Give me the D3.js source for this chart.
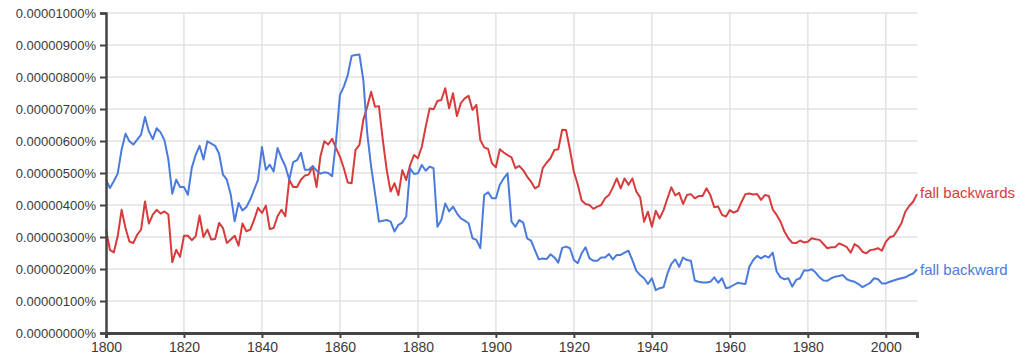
<!DOCTYPE html>
<html>
<head>
<meta charset="utf-8">
<script src="https://cdn.jsdelivr.net/npm/d3@7"></script>
<style>
  html, body { margin: 0; padding: 0; background: #fff; }
  svg { display: block; font-family: "Liberation Sans", Arial, Helvetica, sans-serif; }
</style>
</head>
<body>
<svg id="chart" width="1024" height="362"></svg>
<script>
// ---- DATA (values in units of 0.000001 %) ----
const startYear = 1800;
const endYear = 2008;
const seriesNames = ["fall backwards", "fall backward"];

const fallBackwards = [
  3.23,2.6,2.52,3.02,3.85,3.28,2.86,2.81,3.07,3.23,
  4.11,3.42,3.7,3.85,3.73,3.8,3.7,2.21,2.6,2.38,
  3.04,3.04,2.9,3.02,3.67,3.0,3.23,2.92,2.94,3.44,
  3.28,2.81,2.92,3.04,2.73,3.42,3.18,3.23,3.54,3.91,
  3.75,3.98,3.25,3.28,3.65,3.85,3.65,4.79,4.56,4.56,
  4.79,4.92,4.95,5.21,4.56,5.52,5.99,5.89,6.07,5.78,
  5.51,5.15,4.7,4.68,5.72,5.88,6.66,7.07,7.54,7.07,
  7.09,6.03,5.09,4.42,4.68,4.31,5.09,4.78,5.25,5.56,
  5.46,5.82,6.45,7.02,6.99,7.25,7.28,7.65,7.02,7.49,
  6.78,7.18,7.33,7.41,6.97,7.13,6.03,5.8,5.75,5.3,
  5.18,5.74,5.64,5.56,5.49,5.15,5.22,5.09,4.89,4.73,
  4.52,4.59,5.15,5.32,5.46,5.72,5.74,6.35,6.34,5.72,
  5.04,4.63,4.14,4.03,4.0,3.88,3.95,4.0,4.21,4.31,
  4.55,4.83,4.52,4.83,4.63,4.83,4.42,4.24,3.48,3.79,
  3.32,3.82,3.58,3.84,4.21,4.55,4.3,4.38,4.03,4.31,
  4.34,4.21,4.28,4.28,4.52,4.31,3.93,3.95,3.69,3.64,
  3.84,3.76,3.82,4.1,4.34,4.36,4.33,4.34,4.16,4.31,
  4.28,3.86,3.69,3.48,3.17,2.96,2.82,2.81,2.89,2.83,
  2.85,2.96,2.93,2.91,2.78,2.65,2.68,2.68,2.8,2.75,
  2.68,2.51,2.78,2.7,2.54,2.49,2.59,2.61,2.65,2.57,
  2.85,2.99,3.03,3.22,3.43,3.79,3.97,4.1,4.34
];

const fallBackward = [
  4.79,4.53,4.74,4.98,5.73,6.23,5.99,5.89,6.04,6.2,
  6.75,6.3,6.06,6.4,6.27,6.02,5.42,4.35,4.79,4.56,
  4.56,4.32,5.16,5.57,5.85,5.42,5.99,5.92,5.85,5.6,
  4.95,4.79,4.32,3.49,4.06,3.83,3.94,4.17,4.48,4.79,
  5.81,5.1,5.26,5.05,5.78,5.47,5.21,4.79,5.34,5.4,
  5.63,5.1,5.1,5.21,5.08,4.98,5.02,5.0,4.9,6.0,
  7.44,7.7,8.06,8.66,8.69,8.7,7.9,6.24,5.2,4.36,
  3.48,3.51,3.53,3.48,3.17,3.38,3.45,3.64,5.15,4.97,
  4.99,5.25,5.07,5.2,5.15,3.32,3.53,4.05,3.8,3.95,
  3.74,3.58,3.51,3.43,2.96,2.91,2.65,4.31,4.4,4.21,
  4.21,4.63,4.83,4.99,3.48,3.32,3.53,3.45,2.96,2.89,
  2.59,2.3,2.33,2.31,2.46,2.36,2.2,2.66,2.7,2.65,
  2.28,2.18,2.49,2.68,2.33,2.26,2.26,2.36,2.36,2.47,
  2.3,2.44,2.44,2.51,2.57,2.28,1.95,1.81,1.71,1.53,
  1.71,1.34,1.4,1.43,1.86,2.16,2.3,2.07,2.36,2.28,
  2.26,1.64,1.6,1.58,1.58,1.6,1.74,1.57,1.71,1.4,
  1.43,1.5,1.57,1.55,1.53,2.07,2.28,2.41,2.33,2.41,
  2.36,2.51,1.92,1.74,1.68,1.71,1.45,1.66,1.71,1.95,
  1.95,1.99,1.89,1.74,1.64,1.63,1.71,1.76,1.78,1.81,
  1.68,1.63,1.6,1.53,1.43,1.5,1.57,1.71,1.68,1.55,
  1.55,1.6,1.64,1.68,1.71,1.74,1.81,1.86,1.99
];

const yTickValues = [0,1,2,3,4,5,6,7,8,9,10];
const yTickLabels = [
  "0.00000000%","0.00000100%","0.00000200%","0.00000300%","0.00000400%",
  "0.00000500%","0.00000600%","0.00000700%","0.00000800%","0.00000900%","0.00001000%"
];
const xTickValues = [1800,1820,1840,1860,1880,1900,1920,1940,1960,1980,2000];
const years = d3.range(startYear, endYear + 1);

// ---- CHART ----
(function () {
  const svg = d3.select("#chart");
  const mLeft = 106, mRight = 917, mTop = 13, mBottom = 333;
  const x = d3.scaleLinear().domain([startYear, endYear]).range([mLeft, mRight]);
  const y = d3.scaleLinear().domain([0, 10]).range([mBottom, mTop]);

  const gridColor = "#e2e2e2";
  const axisColor = "#444";
  const textColor = "#3a3a3a";
  const red = "#d73b3b";
  const blue = "#4a7bdc";
  const font = "'Liberation Sans', Arial, sans-serif";

  // horizontal gridlines
  svg.append("g").selectAll("line").data(yTickValues.filter(d => d > 0)).join("line")
    .attr("x1", mLeft).attr("x2", mRight)
    .attr("y1", d => y(d)).attr("y2", d => y(d))
    .attr("stroke", gridColor).attr("stroke-width", 1.5);

  // vertical gridlines
  svg.append("g").selectAll("line").data(xTickValues.filter(d => d > startYear)).join("line")
    .attr("x1", d => x(d)).attr("x2", d => x(d))
    .attr("y1", mTop).attr("y2", mBottom)
    .attr("stroke", gridColor).attr("stroke-width", 1.5);

  // lines
  const line = d3.line().x((d, i) => x(years[i])).y(d => y(d));
  svg.append("path").datum(fallBackwards)
    .attr("d", line).attr("fill", "none").attr("stroke", red)
    .attr("stroke-width", 2).attr("stroke-linejoin", "round");
  svg.append("path").datum(fallBackward)
    .attr("d", line).attr("fill", "none").attr("stroke", blue)
    .attr("stroke-width", 2).attr("stroke-linejoin", "round");

  // y axis
  const yAxis = d3.axisLeft(y).tickValues(yTickValues)
    .tickFormat((d, i) => yTickLabels[i]).tickSize(6).tickPadding(4);
  const gy = svg.append("g").attr("transform", `translate(${mLeft},0)`).call(yAxis);
  gy.select(".domain").attr("stroke", axisColor).attr("stroke-width", 2.5);
  gy.selectAll(".tick line").attr("stroke", axisColor).attr("stroke-width", 2);
  gy.selectAll(".tick text").attr("fill", textColor).style("font-size", "13px")
    .style("font-family", font);

  // x axis
  const xAxis = d3.axisBottom(x).tickValues(xTickValues).tickFormat(d3.format("d"))
    .tickSize(5).tickPadding(4);
  const gx = svg.append("g").attr("transform", `translate(0,${mBottom})`).call(xAxis);
  gx.select(".domain").attr("stroke", axisColor).attr("stroke-width", 3);
  gx.selectAll(".tick line").attr("stroke", axisColor).attr("stroke-width", 2);
  gx.selectAll(".tick text").attr("fill", textColor).style("font-size", "14px")
    .style("font-family", font);

  // series labels
  const n = years.length - 1;
  svg.append("text")
    .attr("x", x(endYear) + 3).attr("y", y(fallBackwards[n]) - 1)
    .attr("dy", "0.35em").attr("fill", red).style("font-size", "15px")
    .style("font-family", font)
    .text(seriesNames[0]);
  svg.append("text")
    .attr("x", x(endYear) + 3).attr("y", y(fallBackward[n]))
    .attr("dy", "0.35em").attr("fill", blue).style("font-size", "15px")
    .style("font-family", font)
    .text(seriesNames[1]);
})();
</script>
</body>
</html>
